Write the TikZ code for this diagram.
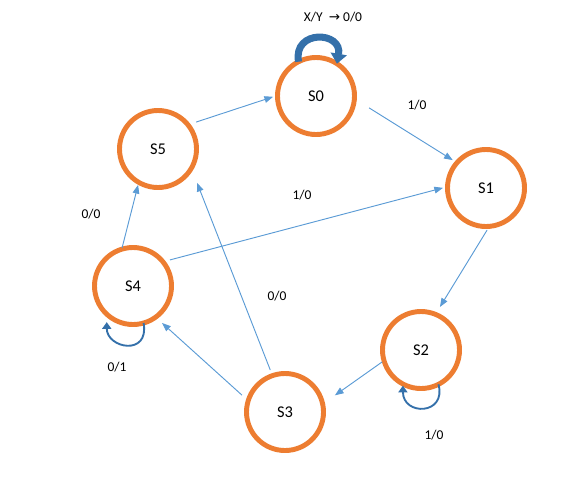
\documentclass[tikz,border=0pt]{standalone}
\usepackage{fontspec}
\setmainfont{Carlito}
\newfontfamily\arrowfont{DejaVu Sans}
\usetikzlibrary{arrows.meta, positioning}
\definecolor{ringorange}{RGB}{237,125,49}
\definecolor{lineblue}{RGB}{91,155,213}
\definecolor{loopblue}{RGB}{52,112,170}
\tikzset{
  fsm/.style={circle, draw=ringorange, line width=4.2pt, fill=white,
              minimum size=2.31cm, inner sep=0pt, outer sep=0pt,
              font=\fontsize{14}{16}\selectfont},
  trans/.style={-{Triangle[length=0.26cm, width=0.2cm]}, lineblue, line width=0.8pt,
                shorten <=0.18cm, shorten >=0.15cm},
  selfloop/.style={-{Triangle[length=0.2cm, width=0.27cm]}, loopblue, line width=1.6pt},
  lbl/.style={font=\fontsize{11.5}{13}\selectfont, inner sep=1pt},
}

\begin{document}
\begin{tikzpicture}[x=0.03cm, y=-0.03cm]
\useasboundingbox (0,0) rectangle (570,492);

% --- States ---
\node[fsm] (s0) at (316,96)  {S0};
\node[fsm] (s1) at (486,188) {S1};
\node[fsm] (s2) at (421,350) {S2};
\node[fsm] (s3) at (285,412) {S3};
\node[fsm] (s4) at (133,286) {S4};
\node[fsm] (s5) at (158,149) {S5};

% --- Transitions ---
\draw[trans, shorten <=0.26cm, shorten >=0.14cm] (s5.39) -- (s0.179);
\draw[trans, shorten <=0.52cm] (s0.-4) -- (s1.139);
\draw[trans, shorten <=0.22cm, shorten >=0.14cm] (s4.39) -- (s1.178);
\draw[trans, shorten <=0.13cm, shorten >=0.26cm] (s1.-85) -- (s2.68);
\draw[trans, shorten <=0.07cm, shorten >=0.45cm] (s2.-164) -- (s3.12);
\draw[trans, shorten <=0.25cm, shorten >=0.26cm] (s3.163) -- (s4.-54);
\draw[trans, shorten >=0.47cm] (s3.109) -- (s5.-30);
\draw[trans, shorten <=0.04cm, shorten >=0.08cm] (s4.107) -- (s5.-120);

% --- Self loops ---
\draw[selfloop, line width=6pt, -{Triangle[length=0.3cm, width=0.48cm]}]
    (s0.117) to[out=100, in=80, looseness=2.2] (s0.57);
\draw[selfloop, shorten >=0.24cm] (s4.-74) to[out=-80, in=-90, looseness=2.3] (s4.-133);
\draw[selfloop, shorten >=0.05cm] (s2.-63) to[out=-75, in=-90, looseness=2.3] (s2.-118);

% --- Labels ---
\node[lbl] (lloop0) at (333,17) {X/Y\ \ {\arrowfont\char"2192} 0/0};
\node[lbl] (l01) at (417,105) {1/0};
\node[lbl] (l41) at (302,195) {1/0};
\node[lbl] (l45) at (91,214)  {0/0};
\node[lbl] (l35) at (277,296) {0/0};
\node[lbl] (lloop4) at (117,367) {0/1};
\node[lbl] (lloop2) at (434,435) {1/0};

\end{tikzpicture}
\end{document}
